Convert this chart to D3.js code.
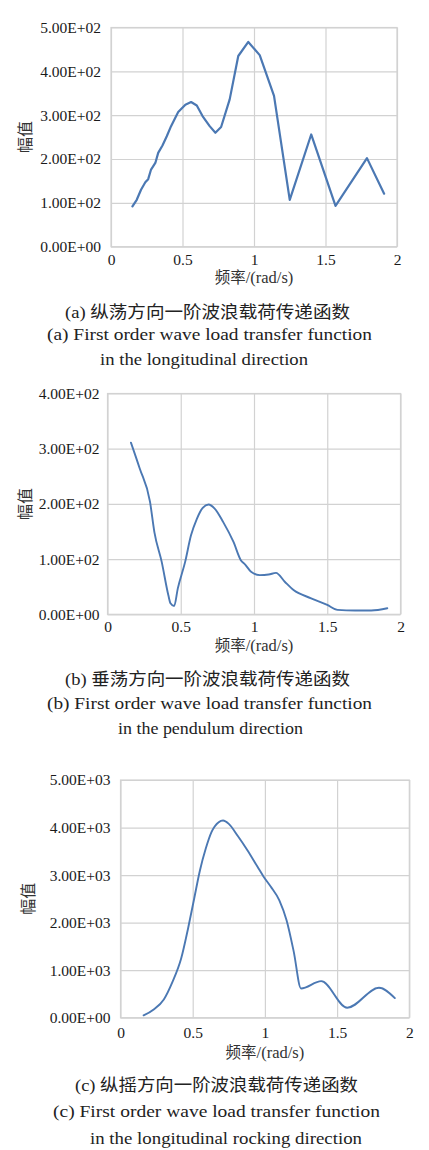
<!DOCTYPE html>
<html>
<head>
<meta charset="utf-8">
<script src="https://cdn.jsdelivr.net/npm/d3@7/dist/d3.min.js"></script>
<style>
  html, body { margin: 0; padding: 0; background: #fff; }
  svg { display: block; }
</style>
</head>
<body>
<svg id="chart" width="429" height="1150"></svg>
<script>
// ---------- data ----------
const freqA = [0.15,0.18,0.21,0.24,0.26,0.28,0.31,0.33,0.36,0.39,0.42,0.47,0.52,0.56,0.60,0.64,0.69,0.73,0.77,0.83,0.89,0.96,1.04,1.14,1.25,1.40,1.57,1.79,1.91];
const ampA  = [92,107,130,147,154,176,191,214,231,252,275,307,324,330,322,298,275,260,273,336,435,467,437,344,107,256,93,202,121];

const freqB = [0.16,0.22,0.29,0.32,0.37,0.415,0.43,0.455,0.48,0.53,0.57,0.61,0.65,0.69,0.73,0.79,0.86,0.91,0.94,0.98,1.04,1.10,1.15,1.21,1.27,1.39,1.50,1.57,1.69,1.80,1.91];
const ampB  = [311,264,204,149,95,35,20,15,47,95,143,173,193,199,192,167,131,98,90,77,71,72,75,59,44,29,17,8,7,7,11];

const freqC = [0.16,0.23,0.30,0.36,0.42,0.47,0.51,0.55,0.59,0.63,0.68,0.71,0.75,0.81,0.88,0.95,0.99,1.04,1.10,1.15,1.20,1.25,1.39,1.57,1.79,1.90];
const ampC  = [49,175,385,755,1245,1909,2503,3098,3552,3902,4112,4147,4077,3832,3517,3168,2972,2760,2469,2049,1385,615,769,210,629,413];

const xTicks  = [0, 0.5, 1, 1.5, 2];
const yTicksA = [0, 100, 200, 300, 400, 500];
const yTicksB = [0, 100, 200, 300, 400];
const yTicksC = [0, 1000, 2000, 3000, 4000, 5000];

const xTitleCN = "频率";
const xTitleEN = "/(rad/s)";
const yTitle   = "幅值";

const captionsCN  = ["(a) 纵荡方向一阶波浪载荷传递函数", "(b) 垂荡方向一阶波浪载荷传递函数", "(c) 纵摇方向一阶波浪载荷传递函数"];
const captionsEN1 = ["(a) First order wave load transfer function", "(b) First order wave load transfer function", "(c) First order wave load transfer function"];
const captionsEN2 = ["in the longitudinal direction", "in the pendulum direction", "in the longitudinal rocking direction"];

// ---------- layout (positions/styles only) ----------
const layouts = [
  { left:111,   right:397,   top:27.5,  bottom:246.7,  labGap:10, xLabOff:12.5, xTitleY:278,  yTitleX:25,
    cap:[{y:311.7, x1:65, x2:350},{y:334, x1:47, x2:372},{y:359, x1:100, x2:308}], curve:d3.curveLinear, sw:2.2 },
  { left:107.5, right:400.5, top:393.5, bottom:614.3,  labGap:8,  xLabOff:12.5, xTitleY:646,  yTitleX:25,
    cap:[{y:679, x1:65, x2:350},{y:703, x1:47, x2:372},{y:728, x1:118, x2:303}], curve:d3.curveMonotoneX, sw:1.9 },
  { left:120.5, right:409.3, top:780,   bottom:1017.7, labGap:10, xLabOff:15,   xTitleY:1053, yTitleX:28,
    cap:[{y:1085, x1:75, x2:358},{y:1111.5, x1:53, x2:380},{y:1138, x1:90, x2:362}], curve:d3.curveMonotoneX, sw:1.9 }
];

const series = [
  { x: freqA, y: ampA, yTicks: yTicksA },
  { x: freqB, y: ampB, yTicks: yTicksB },
  { x: freqC, y: ampC, yTicks: yTicksC }
];

const fmtE = v => {
  const s = v.toExponential(2).toUpperCase();
  const [m, e] = s.split("E");
  return m + "E" + e[0] + e.slice(1).padStart(2, "0");
};

const LINE = "#4b78b3";
const GRID = "#d2d2d2";
const SERIF = "'Liberation Serif', 'Times New Roman', serif";
const CJK = "'Noto Sans CJK SC', sans-serif";

const svg = d3.select("#chart");

series.forEach((s, i) => {
  const L = layouts[i];
  const x = d3.scaleLinear().domain([0, 2]).range([L.left, L.right]);
  const y = d3.scaleLinear().domain([0, d3.max(s.yTicks)]).range([L.bottom, L.top]);
  const g = svg.append("g");
  const h = L.bottom - L.top, w = L.right - L.left;

  // x axis with vertical gridlines
  const xa = g.append("g").attr("transform", `translate(0,${L.bottom})`)
    .call(d3.axisBottom(x).tickValues(xTicks).tickFormat(d => String(d))
      .tickSizeInner(-h).tickSizeOuter(0).tickPadding(0));
  xa.attr("font-family", null).attr("font-size", null);
  xa.select(".domain").remove();
  xa.selectAll("line").attr("stroke", GRID).attr("stroke-width", 1.2);
  xa.selectAll("text").attr("y", L.xLabOff).attr("dy", "0.35em")
    .style("font-family", SERIF).style("font-size", "15.5px").attr("fill", "#1a1a1a");

  // y axis with horizontal gridlines
  const ya = g.append("g").attr("transform", `translate(${L.left},0)`)
    .call(d3.axisLeft(y).tickValues(s.yTicks).tickFormat(fmtE)
      .tickSizeInner(-w).tickSizeOuter(0).tickPadding(L.labGap));
  ya.attr("font-family", null).attr("font-size", null);
  ya.select(".domain").remove();
  ya.selectAll("line").attr("stroke", GRID).attr("stroke-width", 1.2);
  ya.selectAll("text").style("font-family", SERIF).style("font-size", "15.5px").attr("fill", "#1a1a1a");

  // frame
  g.append("rect").attr("x", L.left).attr("y", L.top).attr("width", w).attr("height", h)
    .attr("fill", "none").attr("stroke", GRID).attr("stroke-width", 1.2);

  // data line
  const line = d3.line().x(d => x(d[0])).y(d => y(d[1])).curve(L.curve);
  g.append("path").datum(d3.zip(s.x, s.y)).attr("d", line)
    .attr("fill", "none").attr("stroke", LINE).attr("stroke-width", L.sw)
    .attr("stroke-linejoin", "round").attr("stroke-linecap", "round");

  // axis titles
  const xt = g.append("text").attr("x", (L.left + L.right) / 2).attr("y", L.xTitleY)
    .attr("text-anchor", "middle").attr("dy", "0.35em").attr("fill", "#333").style("font-size", "15.5px");
  xt.append("tspan").style("font-family", CJK).text(xTitleCN);
  xt.append("tspan").style("font-family", SERIF).style("font-size", "16.5px").text(xTitleEN);

  g.append("text").attr("transform", `translate(${L.yTitleX},${(L.top + L.bottom) / 2}) rotate(-90)`)
    .attr("text-anchor", "middle").attr("dy", "0.35em").style("font-family", CJK)
    .style("font-size", "16px").attr("fill", "#333").text(yTitle);

  // captions
  const caps = [captionsCN[i], captionsEN1[i], captionsEN2[i]];
  caps.forEach((t, k) => {
    const c = L.cap[k];
    g.append("text").attr("x", c.x1).attr("y", c.y).attr("dy", "0.35em")
      .style("font-family", k === 0 ? `'Liberation Serif', 'Noto Sans CJK SC', serif` : SERIF)
      .style("font-size", "17px").attr("fill", "#222")
      .attr("textLength", c.x2 - c.x1).attr("lengthAdjust", "spacingAndGlyphs")
      .text(t);
  });
});
</script>
</body>
</html>
